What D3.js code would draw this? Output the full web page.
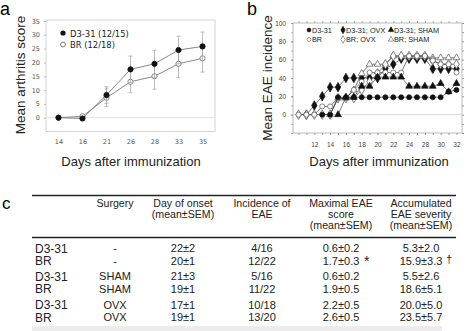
<!DOCTYPE html>
<html>
<head>
<meta charset="utf-8">
<script src="https://cdn.jsdelivr.net/npm/d3@7"></script>
<style>
  body { margin: 0; background: #fff; }
  svg { display: block; font-family: "Liberation Sans", Arial, sans-serif; }
</style>
</head>
<body>
<svg id="mainSvg" width="474" height="331"></svg>
<script>
// ---- panel a data ----
var daysA = ["14", "16", "21", "26", "28", "33", "35"];
var d331A = [0, -0.3, 8.2, 17.5, 19.5, 24.5, 25.8];
var d331AErr = [0, 0, 3, 4.8, 4.9, 5, 5.2];
var brA = [0, 0.5, 7.2, 13, 15, 19.5, 21.5];
var brAErr = [0, 0, 3.2, 4, 4.7, 5, 5];
var yTicksA = [0, 5, 10, 15, 20, 25, 30, 35];

// ---- panel b data ----
var daysB = ["10","11","12","13","14","15","16","17","18","19","20","21","22","23","24","25","28","29","30","31","32"];
var xTicksB = ["12","14","16","18","20","22","24","28","30","32"];
var yTicksB = [0, 20, 40, 60, 80, 100];
var bD331     = [null,null,null,0,0,19,19,19,19,19,19,19,19,19,19,19,19,19,19,25,27];
var bD331Ovx  = [null,0,10,20,30,30,40,40,40,40,40,50,55,61,61,61,61,50,50,50,50];
var bD331Sham = [null,null,null,null,null,0,19,19,31,31,41,41,41,41,31,31,31,31,34,25,34];
var bBR       = [0,0,0,9,9,18,18,27,36,46,46,46,46,46,64,64,64,59,55,55,46];
var bBROvx    = [0,0,0,0,0,18,18,18,27,36,45,55,64,64,64,64,64,59,55,55,55];
var bBRSham   = [null,null,null,null,0,18,18,27,45,55,55,55,64,64,64,64,64,62,62,62,62];

// ---- panel c data ----
var rowGroups = ["D3-31", "BR", "D3-31", "BR", "D3-31", "BR"];
var rowSurgery = ["-", "-", "SHAM", "SHAM", "OVX", "OVX"];
var rowOnset = ["22±2", "20±1", "21±3", "19±1", "17±1", "19±1"];
var rowIncidence = ["4/16", "12/22", "5/16", "11/22", "10/18", "13/20"];
var rowMaxScore = ["0.6±0.2", "1.7±0.3", "0.6±0.2", "1.9±0.5", "2.2±0.5", "2.6±0.5"];
var rowAccum = ["5.3±2.0", "15.9±3.3", "5.5±2.6", "18.6±5.1", "20.0±5.0", "23.5±5.7"];
var headers = [["Surgery"], ["Day of onset", "(mean±SEM)"], ["Incidence of", "EAE"],
               ["Maximal EAE", "score", "(mean±SEM)"], ["Accumulated", "EAE severity", "(mean±SEM)"]];

var svg = d3.select("#mainSvg");

// panel letters
svg.append("text").attr("x", 0).attr("y", 15).style("font-size", "18px").text("a");
svg.append("text").attr("x", 247).attr("y", 15).style("font-size", "18px").text("b");
svg.append("text").attr("x", 2).attr("y", 209).style("font-size", "17px").text("c");

// ================= panel a =================
var aL = 46, aR = 215, aT = 20, aB = 131.5;
var xA = d3.scalePoint().domain(daysA).range([aL, aR]).padding(0.52);
var yA = d3.scaleLinear().domain([-5, 35]).range([aB, aT + 1]);
var gA = svg.append("g");

gA.append("rect").attr("x", aL).attr("y", aT).attr("width", aR - aL).attr("height", aB - aT)
  .attr("fill", "none").attr("stroke", "#d4d4d4").attr("stroke-width", 1);
gA.append("line").attr("x1", aL).attr("x2", aR).attr("y1", yA(0)).attr("y2", yA(0))
  .attr("stroke", "#e2e2e2");

var yAxisA = gA.append("g").attr("transform", "translate(" + aL + ",0)")
  .call(d3.axisLeft(yA).tickValues(yTicksA).tickSize(2).tickPadding(4));
yAxisA.select(".domain").remove();
yAxisA.selectAll("line").attr("stroke", "#bbb");
yAxisA.selectAll("text").attr("fill", "#555").style("font-size", "6.5px").style("font-family", "DejaVu Sans");

var xAxisA = gA.append("g").attr("transform", "translate(0," + aB + ")")
  .call(d3.axisBottom(xA).tickSize(0).tickPadding(8));
xAxisA.select(".domain").remove();
xAxisA.selectAll("text").attr("fill", "#555").style("font-size", "6.5px").style("font-family", "DejaVu Sans");

gA.append("text").attr("x", 131).attr("y", 166).attr("text-anchor", "middle")
  .style("font-size", "13px").attr("fill", "#222").text("Days after immunization");
gA.append("text").attr("transform", "translate(25,75) rotate(-90)").attr("text-anchor", "middle")
  .style("font-size", "13.5px").attr("fill", "#222").text("Mean arthritis score");

function drawSeriesA(vals, errs, filled) {
  var pts = vals.map(function(v, i) { return { d: daysA[i], v: v, e: errs[i] }; });
  gA.append("g").selectAll("line").data(pts.filter(function(p) { return p.e > 0; })).enter()
    .append("path")
    .attr("d", function(p) {
      var x = xA(p.d), y1 = yA(p.v + p.e), y2 = yA(p.v - p.e);
      return "M" + x + "," + y1 + "V" + y2 + "M" + (x - 2) + "," + y1 + "H" + (x + 2) + "M" + (x - 2) + "," + y2 + "H" + (x + 2);
    })
    .attr("stroke", "#aaa").attr("stroke-width", 0.8).attr("fill", "none");
  gA.append("path").datum(pts)
    .attr("d", d3.line().x(function(p) { return xA(p.d); }).y(function(p) { return yA(p.v); }))
    .attr("fill", "none").attr("stroke", "#888").attr("stroke-width", 1);
  gA.append("g").selectAll("circle").data(pts).enter().append("circle")
    .attr("cx", function(p) { return xA(p.d); }).attr("cy", function(p) { return yA(p.v); })
    .attr("r", 2.6)
    .attr("fill", filled ? "#111" : "#fff").attr("stroke", filled ? "#111" : "#777").attr("stroke-width", 0.9);
}
drawSeriesA(brA, brAErr, false);
drawSeriesA(d331A, d331AErr, true);

// legend a
gA.append("circle").attr("cx", 63).attr("cy", 33).attr("r", 2.6).attr("fill", "#111");
gA.append("text").attr("x", 70).attr("y", 36.5).style("font-size", "8.4px").style("font-family", "DejaVu Sans")
  .attr("fill", "#222").text("D3-31 (12/15)");
gA.append("circle").attr("cx", 63).attr("cy", 44.5).attr("r", 2.4).attr("fill", "#fff").attr("stroke", "#666").attr("stroke-width", 0.9);
gA.append("text").attr("x", 70).attr("y", 48).style("font-size", "8.4px").style("font-family", "DejaVu Sans")
  .attr("fill", "#222").text("BR (12/18)");

// ================= panel b =================
var bL = 293, bR = 462, bT = 23, bB = 133;
var xB = d3.scalePoint().domain(daysB).range([bL, bR]).padding(0.7);
var yB = d3.scaleLinear().domain([-20, 100]).range([bB, bT]);
var gB = svg.append("g");

gB.append("rect").attr("x", bL).attr("y", bT).attr("width", bR - bL).attr("height", bB - bT)
  .attr("fill", "none").attr("stroke", "#bbb").attr("stroke-width", 1);
gB.append("line").attr("x1", bL).attr("x2", bR).attr("y1", yB(0)).attr("y2", yB(0))
  .attr("stroke", "#ddd");

var yAxisB = gB.append("g").attr("transform", "translate(" + bL + ",0)")
  .call(d3.axisLeft(yB).tickValues(yTicksB).tickSize(2).tickPadding(5));
yAxisB.select(".domain").remove();
yAxisB.selectAll("line").attr("stroke", "#999");
yAxisB.selectAll("text").attr("fill", "#444").style("font-size", "6.5px");
var yAxisB2 = gB.append("g").attr("transform", "translate(" + bR + ",0)")
  .call(d3.axisRight(yB).ticks(12).tickSize(2).tickFormat(""));
yAxisB2.select(".domain").remove();
yAxisB2.selectAll("line").attr("stroke", "#999");
var yAxisB3 = gB.append("g").attr("transform", "translate(" + bL + ",0)")
  .call(d3.axisLeft(yB).ticks(12).tickSize(1.5).tickFormat(""));
yAxisB3.select(".domain").remove();
yAxisB3.selectAll("line").attr("stroke", "#999");

var xAxisB = gB.append("g").attr("transform", "translate(0," + bB + ")")
  .call(d3.axisBottom(xB).tickSize(2).tickPadding(7)
    .tickFormat(function(d) { return xTicksB.indexOf(d) >= 0 ? d : ""; }));
xAxisB.select(".domain").remove();
xAxisB.selectAll("line").attr("stroke", "#999");
xAxisB.selectAll("text").attr("fill", "#444").style("font-size", "6.5px");
var xAxisBTop = gB.append("g").attr("transform", "translate(0," + bT + ")")
  .call(d3.axisTop(xB).tickSize(2).tickFormat(""));
xAxisBTop.select(".domain").remove();
xAxisBTop.selectAll("line").attr("stroke", "#aaa");

gB.append("text").attr("x", 379).attr("y", 166).attr("text-anchor", "middle")
  .style("font-size", "13px").attr("fill", "#222").text("Days after immunization");
gB.append("text").attr("transform", "translate(272,78) rotate(-90)").attr("text-anchor", "middle")
  .style("font-size", "13.5px").attr("fill", "#222").text("Mean EAE incidence");

var seriesB = [
  { name: "D3-31; OVX", vals: bD331Ovx, sym: d3.symbolDiamond, size: 26, filled: true },
  { name: "BR; SHAM", vals: bBRSham, sym: d3.symbolTriangle, size: 20, filled: false },
  { name: "BR; OVX", vals: bBROvx, sym: d3.symbolDiamond, size: 26, filled: false },
  { name: "BR", vals: bBR, sym: d3.symbolCircle, size: 20, filled: false },
  { name: "D3-31; SHAM", vals: bD331Sham, sym: d3.symbolTriangle, size: 20, filled: true },
  { name: "D3-31", vals: bD331, sym: d3.symbolCircle, size: 20, filled: true }
];

var lineB = d3.line()
  .defined(function(p) { return p.v !== null; })
  .x(function(p) { return xB(p.d); }).y(function(p) { return yB(p.v); });

seriesB.forEach(function(s) {
  var pts = s.vals.map(function(v, i) { return { d: daysB[i], v: v }; });
  gB.append("path").datum(pts).attr("d", lineB)
    .attr("fill", "none").attr("stroke", "#444").attr("stroke-width", 0.7);
  gB.append("g").selectAll("path").data(pts.filter(function(p) { return p.v !== null; })).enter()
    .append("path")
    .attr("transform", function(p) { return "translate(" + xB(p.d) + "," + yB(p.v) + ")"; })
    .attr("d", d3.symbol().type(s.sym).size(s.size))
    .attr("fill", s.filled ? "#111" : "#fff").attr("stroke", s.filled ? "#111" : "#555").attr("stroke-width", 0.7);
});

// legend b
var legB = [
  { name: "D3-31", sym: d3.symbolCircle, size: 12, filled: true, x: 309, y: 30 },
  { name: "D3-31; OVX", sym: d3.symbolDiamond, size: 16, filled: true, x: 343, y: 30 },
  { name: "D3-31; SHAM", sym: d3.symbolTriangle, size: 13, filled: true, x: 391, y: 30 },
  { name: "BR", sym: d3.symbolCircle, size: 12, filled: false, x: 309, y: 39.5 },
  { name: "BR; OVX", sym: d3.symbolDiamond, size: 16, filled: false, x: 343, y: 39.5 },
  { name: "BR; SHAM", sym: d3.symbolTriangle, size: 13, filled: false, x: 391, y: 39.5 }
];
legB.forEach(function(l) {
  gB.append("path").attr("transform", "translate(" + l.x + "," + l.y + ")")
    .attr("d", d3.symbol().type(l.sym).size(l.size))
    .attr("fill", l.filled ? "#111" : "#fff").attr("stroke", l.filled ? "#111" : "#555").attr("stroke-width", 0.6);
  gB.append("text").attr("x", l.x + 3).attr("y", l.y + 2.7).style("font-size", "7.3px")
    .attr("fill", "#222").text(l.name);
});

// ================= panel c (table) =================
var gC = svg.append("g").attr("fill", "#222");
var colX = [35, 115, 183, 262, 341, 421];
var rowY = [252, 264.5, 280, 292.5, 308.5, 321];

gC.append("line").attr("x1", 32).attr("x2", 456).attr("y1", 195.5).attr("y2", 195.5)
  .attr("stroke", "#222").attr("stroke-width", 1.3);
gC.append("line").attr("x1", 32).attr("x2", 456).attr("y1", 237.5).attr("y2", 237.5)
  .attr("stroke", "#222").attr("stroke-width", 1.3);
gC.append("rect").attr("x", 32).attr("y", 326).attr("width", 410).attr("height", 5).attr("fill", "#ececec");

headers.forEach(function(h, i) {
  h.forEach(function(line, j) {
    gC.append("text").attr("x", colX[i + 1]).attr("y", 207 + j * 11.2)
      .attr("text-anchor", "middle").style("font-size", "10.6px").text(line);
  });
});

var cols = [rowSurgery, rowOnset, rowIncidence, rowMaxScore, rowAccum];
rowGroups.forEach(function(g, r) {
  gC.append("text").attr("x", colX[0]).attr("y", rowY[r] + 0.5).style("font-size", "12px").text(g);
  cols.forEach(function(col, c) {
    gC.append("text").attr("x", colX[c + 1]).attr("y", rowY[r])
      .attr("text-anchor", "middle").style("font-size", "11px").text(col[r]);
  });
});
// significance marks
gC.append("text").attr("x", 364).attr("y", rowY[1] + 1).style("font-size", "14px").text("*");
gC.append("text").attr("x", 446).attr("y", rowY[1] - 2).style("font-size", "11px").text("†");
</script>
</body>
</html>
